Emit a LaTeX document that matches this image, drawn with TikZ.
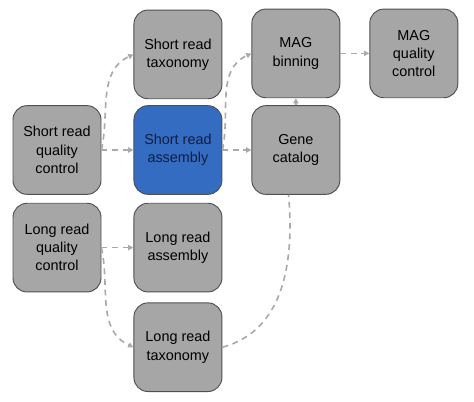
\documentclass[tikz,border=0pt]{standalone}
\usepackage{fontspec}
\setmainfont{Liberation Sans}
\usetikzlibrary{positioning,arrows.meta}

\definecolor{boxgray}{RGB}{166,166,166}
\definecolor{boxline}{RGB}{80,80,80}
\definecolor{asmblue}{RGB}{52,108,194}
\definecolor{asmtext}{RGB}{16,30,60}
\definecolor{linkgray}{RGB}{170,170,170}

\begin{document}
\begin{tikzpicture}[
			box/.style={
				draw=boxline,
				line width=0.8pt,
				rounded corners=0.42cm,
				minimum width=2.64cm,
				minimum height=2.66cm,
				align=center,
				font=\fontsize{12.3}{15.5}\selectfont,
				fill=boxgray
			},
			hot/.style={box,fill=asmblue,text=asmtext},
			link/.style={
				draw=linkgray,
				line width=1.4pt,
				dash pattern=on 5pt off 4pt,
				-{Triangle[length=4.5pt,width=4.5pt]}
			},
			>=latex
			]
			
			\useasboundingbox (0,0) rectangle (14.22,-12.06);
			
			\node[box] (srqc) at (1.71,-4.5) {Short read\\quality\\control};
			\node[hot,right=0.96cm of srqc] (sra) {Short read\\assembly};
			\node[box,above=0.18cm of sra] (srt) {Short read\\taxonomy};
			\node[box,right=0.87cm of sra] (gc) {Gene\\catalog};
			\node[box,above=0.21cm of gc] (mag) {MAG\\binning};
			\node[box,right=0.87cm of mag] (magqc) {MAG\\quality\\control};
			\node[box,below=0.24cm of srqc] (lrqc) {Long read\\quality\\control};
			\node[box,right=0.96cm of lrqc] (lra) {Long read\\assembly};
			\node[box,below=0.3cm of lra] (lrt) {Long read\\taxonomy};
			
			\draw[link] (srqc.east) -- (sra.west);
			\draw[link] (srqc.east) to[out=78,in=205] (srt.west);
			\draw[link] (sra.east) -- (gc.west);
			\draw[link] (sra.east) to[out=78,in=205] (mag.west);
			\draw[link] (gc.north) -- (mag.south);
			\draw[link] (mag.east) -- (magqc.west);
			\draw[link] (lrqc.east) -- (lra.west);
			\draw[link] (lrqc.east) to[out=-78,in=155] (lrt.west);
			\draw[link,-] (lrt.east) to[out=15,in=-85] ([xshift=-0.22cm]gc.south);
			
		\end{tikzpicture}
\end{document}
